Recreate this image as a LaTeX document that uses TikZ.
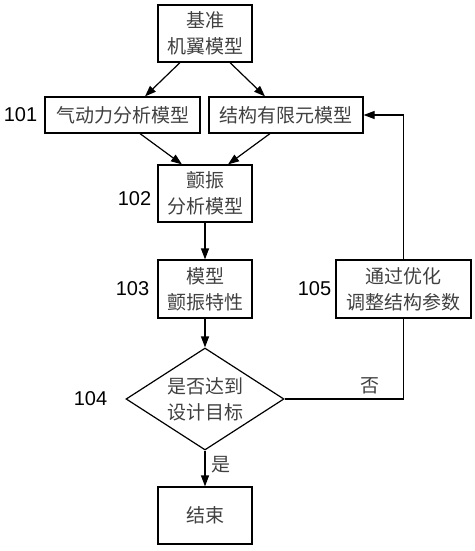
\documentclass[tikz,border=0pt]{standalone}
\usepackage{fontspec}
\setmainfont{Liberation Sans}
\newfontfamily\cjk{Noto Sans CJK SC}
\usetikzlibrary{arrows.meta,positioning,shapes.geometric}
\begin{document}
\begin{tikzpicture}[x=1pt,y=-1pt,
		every node/.style={font=\cjk\fontsize{19}{26}\selectfont,text=black!75,align=center,inner sep=0pt},
		block/.style={draw=black,line width=1.2pt,minimum width=94pt,minimum height=57pt},
		wide/.style={block,minimum width=155pt,minimum height=36pt},
		decide/.style={draw=black,line width=1.2pt,diamond,aspect=1.55,minimum width=158pt,minimum height=102pt},
		tag/.style={font=\fontsize{20}{22}\selectfont,text=black},
		link/.style={draw=black,line width=1.2pt,-{Triangle[length=11pt,width=8pt]}}]
\useasboundingbox (0,0) rectangle (474,551);
\node[block] (base) at (205,33.5) {基准\\机翼模型};
\node[wide] (aero) at (122.5,115) {气动力分析模型};
\node[wide,minimum width=154pt] (fem) at (286,115) {结构有限元模型};
\node[block] (flutter) at (205,193.5) {颤振\\分析模型};
\node[block,minimum height=58pt] (prop) at (205,289) {模型\\颤振特性};
\node[block,minimum width=135pt,minimum height=58pt] (opt) at (403.5,289) {通过优化\\调整结构参数};
\node[decide] (check) at (205,399) {是否达到\\设计目标};
\node[block] (stop) at (205,515.5) {结束};
% step numbers
\node[tag,left=7pt of aero] {101};
\node[tag,left=6pt of flutter,yshift=-5pt] {102};
\node[tag,left=8pt of prop] {103};
\node[tag,left=18pt of check] {104};
\node[tag,left=4pt of opt] {105};
% arrows
\draw[link] ([xshift=-25pt]base.south) -- ([xshift=22.5pt]aero.north);
\draw[link] ([xshift=25pt]base.south) -- ([xshift=-21pt]fem.north);
\draw[link] ([xshift=17.5pt]aero.south) -- ([xshift=-23pt]flutter.north);
\draw[link] ([xshift=-16pt]fem.south) -- ([xshift=23pt]flutter.north);
\draw[link] (flutter) -- (prop);
\draw[link] (prop) -- (check);
\draw[link] (check) -- node[pos=0.4,right=6pt] {是} (stop);
\draw[line width=1.2pt] (check.east) -| node[pos=0.36,above=4pt] {否} (opt.south);
\draw[link] (opt.north) |- (fem.east);
\end{tikzpicture}
\end{document}
